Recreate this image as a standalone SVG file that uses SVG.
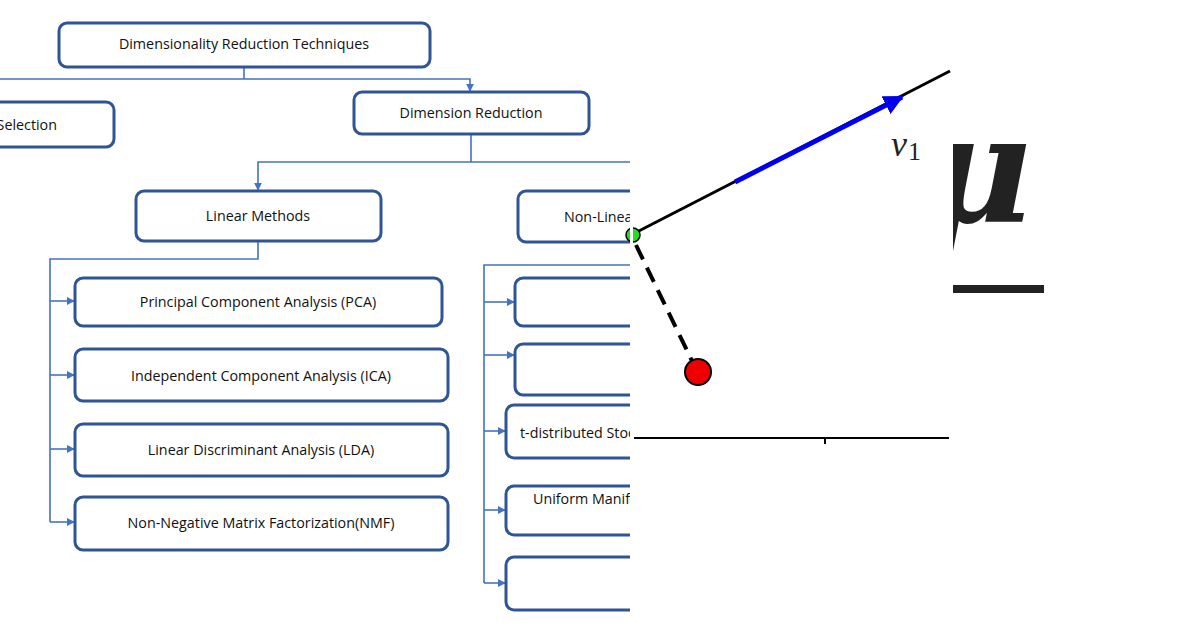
<svg xmlns="http://www.w3.org/2000/svg" width="1200" height="630" viewBox="0 0 1200 630">
<style>
.b{fill:#fff;stroke:#2F5597;stroke-width:3}
.t{font-family:"Open Sans","Liberation Sans",sans-serif;font-size:14.3px;fill:#111}
.c{fill:none;stroke:#4472C4;stroke-width:1.6}
</style>
<defs>
<marker id="a" viewBox="0 0 10 10" refX="9" refY="5" markerWidth="5" markerHeight="5" orient="auto"><path d="M0,0L10,5L0,10z" fill="#4472C4"/></marker>
<marker id="ba" viewBox="0 0 10 10" refX="9" refY="5" markerWidth="4" markerHeight="4" orient="auto"><path d="M0,0L10,5L0,10z" fill="#0000ee"/></marker>
<clipPath id="L"><rect x="0" y="0" width="630" height="630"/></clipPath>
<clipPath id="M"><rect x="953" y="0" width="247" height="630"/></clipPath>
</defs>
<rect width="1200" height="630" fill="#fff"/>
<g clip-path="url(#L)">
<g id="connectors">
<path class="c" d="M244,67V79M0,79H470V91" marker-end="url(#a)"/>
<path class="c" d="M471,134V162H630M471,162H258V190" marker-end="url(#a)"/>
<path class="c" d="M258,241V259H50V522"/>
<path class="c" d="M50,301H74" marker-end="url(#a)"/>
<path class="c" d="M50,375H74" marker-end="url(#a)"/>
<path class="c" d="M50,449H74" marker-end="url(#a)"/>
<path class="c" d="M50,522H74" marker-end="url(#a)"/>
<path class="c" d="M630,265H484V583"/>
<path class="c" d="M484,302H514" marker-end="url(#a)"/>
<path class="c" d="M484,355H514" marker-end="url(#a)"/>
<path class="c" d="M484,431H505" marker-end="url(#a)"/>
<path class="c" d="M484,510H505" marker-end="url(#a)"/>
<path class="c" d="M484,583H505" marker-end="url(#a)"/>
</g>
<g id="n1"><rect class="b" x="59" y="23" width="371" height="44" rx="8"/><text class="t" x="244" y="49" text-anchor="middle">Dimensionality Reduction Techniques</text></g>
<g id="n2"><rect class="b" x="-120" y="102" width="234" height="45" rx="8"/><text class="t" x="57" y="130" text-anchor="end">Feature Selection</text></g>
<g id="n3"><rect class="b" x="354" y="92" width="235" height="42" rx="8"/><text class="t" x="471" y="118" text-anchor="middle">Dimension Reduction</text></g>
<g id="n4"><rect class="b" x="136" y="191" width="245" height="50" rx="8"/><text class="t" x="258" y="221" text-anchor="middle">Linear Methods</text></g>
<g id="n5"><rect class="b" x="518" y="191" width="250" height="51" rx="8"/><text class="t" x="564" y="222">Non-Linear Methods</text></g>
<g id="n6"><rect class="b" x="75" y="278" width="367" height="48" rx="8"/><text class="t" x="258" y="307" text-anchor="middle">Principal Component Analysis (PCA)</text></g>
<g id="n7"><rect class="b" x="75" y="349" width="373" height="52" rx="8"/><text class="t" x="261" y="381" text-anchor="middle">Independent Component Analysis (ICA)</text></g>
<g id="n8"><rect class="b" x="75" y="424" width="373" height="52" rx="8"/><text class="t" x="261" y="455" text-anchor="middle">Linear Discriminant Analysis (LDA)</text></g>
<g id="n9"><rect class="b" x="75" y="497" width="373" height="53" rx="8"/><text class="t" x="261" y="528" text-anchor="middle">Non-Negative Matrix Factorization(NMF)</text></g>
<g id="n10"><rect class="b" x="515" y="278" width="300" height="48" rx="8"/></g>
<g id="n11"><rect class="b" x="515" y="344" width="300" height="51" rx="8"/></g>
<g id="n12"><rect class="b" x="506" y="405" width="320" height="53" rx="8"/><text class="t" x="520" y="438">t-distributed Stochastic Neighbor Embedding (t-SNE)</text></g>
<g id="n13"><rect class="b" x="506" y="486" width="320" height="49" rx="8"/><text class="t" x="533" y="504">Uniform Manifold Approximation and Projection (UMAP)</text></g>
<g id="n14"><rect class="b" x="506" y="557" width="320" height="53" rx="8"/></g>
</g>
<g id="plot">
<line x1="633" y1="234" x2="950" y2="71" stroke="#000" stroke-width="3"/>
<line x1="735" y1="182" x2="902" y2="97" stroke="#0000ee" stroke-width="5" marker-end="url(#ba)"/>
<line x1="636" y1="245" x2="693" y2="363" stroke="#000" stroke-width="4" stroke-dasharray="16,9"/>
<circle cx="633" cy="235" r="7" fill="#22dd22" stroke="#000" stroke-width="1.5"/>
<rect x="630" y="220" width="3" height="30" fill="#fff"/>
<circle cx="698" cy="372" r="13" fill="#ee0000" stroke="#000" stroke-width="2"/>
<line x1="634" y1="438" x2="949" y2="438" stroke="#000" stroke-width="2"/>
<line x1="825" y1="438" x2="825" y2="444" stroke="#000" stroke-width="2"/>
<text x="891" y="156" font-family="'Liberation Serif',serif" font-style="italic" font-size="36" fill="#222">v<tspan font-style="normal" font-size="26" dx="1" dy="4">1</tspan></text>
</g>
<g clip-path="url(#M)">
<text x="922" y="222" font-family="'DejaVu Serif',serif" font-style="italic" font-weight="bold" font-size="150" fill="#222">μ</text>
<rect x="953" y="285" width="91" height="8" fill="#222"/>
</g>
</svg>
